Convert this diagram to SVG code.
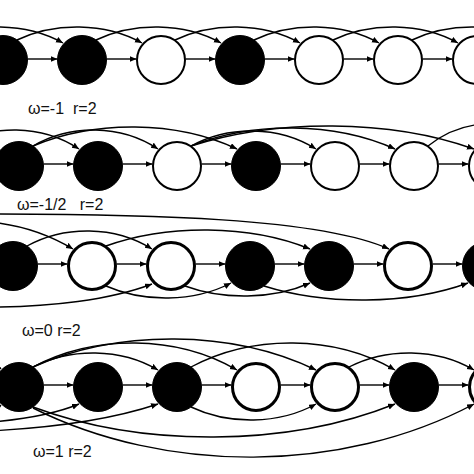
<svg xmlns="http://www.w3.org/2000/svg" width="474" height="474" viewBox="0 0 474 474">
<defs>
<marker id="ah" markerUnits="userSpaceOnUse" markerWidth="8" markerHeight="7" refX="7" refY="3" orient="auto">
<path d="M0,0 L7,3 L0,6 z" fill="#000"/>
</marker>
<style>
.b{fill:#000;stroke:#000;stroke-width:1}
.w{fill:#fff;stroke:#000;stroke-width:2}
.wt{fill:#fff;stroke:#000;stroke-width:3}
.e{fill:none;stroke:#000;stroke-width:1.4;marker-end:url(#ah)}
.lbl{font-family:"Liberation Sans",Arial,sans-serif;font-size:16px;fill:#111}
</style>
</defs>
<rect width="474" height="474" fill="#fff"/>

<g id="connectors">
<!-- row 1 -->
<path class="e" d="M27.5,59 H57.5"/>
<path class="e" d="M106.5,59 H136.5"/>
<path class="e" d="M185.5,59 H215.5"/>
<path class="e" d="M264.5,59 H294.5"/>
<path class="e" d="M343.5,59 H373.5"/>
<path class="e" d="M422.5,59 H452.5"/>
<path class="e" d="M-62,40 C-24.5,22.2 25.5,22.2 63,43"/>
<path class="e" d="M17,40 C54.5,22.2 104.5,22.2 142,43"/>
<path class="e" d="M96,40 C133.5,22.2 183.5,22.2 221,43"/>
<path class="e" d="M175,40 C212.5,22.2 262.5,22.2 300,43"/>
<path class="e" d="M254,40 C291.5,22.2 341.5,22.2 379,43"/>
<path class="e" d="M333,40 C370.5,22.2 420.5,22.2 458,43"/>
<path class="e" d="M412,40 C449.5,22.2 499.5,22.2 537,43"/>
<!-- row 2 -->
<path class="e" d="M43.5,164 H73.5"/>
<path class="e" d="M122.5,164 H152.5"/>
<path class="e" d="M201.5,164 H231.5"/>
<path class="e" d="M280.5,164 H310.5"/>
<path class="e" d="M359.5,164 H389.5"/>
<path class="e" d="M438.5,164 H468.5"/>
<path class="e" d="M-46,146 C-8.5,124.2 41.5,124.2 79,149"/>
<path class="e" d="M33,146 C70.5,124.2 120.5,124.2 158,149"/>
<path class="e" d="M33,146 C94.2,120.2 175.8,120.2 237,149"/>
<path class="e" d="M191,146 C228.5,125.5 278.5,125.5 316,149"/>
<path class="e" d="M191,146 C252.2,121.5 333.8,121.5 395,149"/>
<path class="e" d="M191,146 C275.9,118.8 389.1,118.8 474,149"/>
<path class="e" d="M428,146 C465.5,116.2 515.5,116.2 553,149"/>
<!-- row 3 -->
<path class="e" d="M37.5,264 H67.5"/>
<path class="e" d="M116.5,264 H146.5"/>
<path class="e" d="M195.5,264 H225.5"/>
<path class="e" d="M274.5,264 H304.5"/>
<path class="e" d="M353.5,264 H383.5"/>
<path class="e" d="M432.5,264 H462.5"/>
<path class="e" d="M-131,246 C-69.8,212.2 11.8,212.2 73,249"/>
<path class="e" d="M27,246 C64.5,225.5 114.5,225.5 152,249"/>
<path class="e" d="M106,246 C167.2,224.2 248.8,224.2 310,249"/>
<path class="e" d="M-20,214 C150,214 320,218 389,249"/>
<path class="e" d="M-10,307 C50,307 110,300 152,284"/>
<path class="e" d="M106,286 C143.5,302.5 193.5,302.5 231,283"/>
<path class="e" d="M185,286 C222.5,299.8 272.5,299.8 310,283"/>
<path class="e" d="M264,286 C325.2,305.2 406.8,305.2 468,283"/>
<!-- row 4 -->
<path class="e" d="M43.5,385 H73.5"/>
<path class="e" d="M122.5,385 H152.5"/>
<path class="e" d="M201.5,385 H231.5"/>
<path class="e" d="M280.5,385 H310.5"/>
<path class="e" d="M359.5,385 H389.5"/>
<path class="e" d="M438.5,385 H468.5"/>
<path class="e" d="M-30,352 C-15,352 -8,360 1,369"/>
<path class="e" d="M33,367 C70.5,347.8 120.5,347.8 158,370"/>
<path class="e" d="M33,367 C94.2,334.5 175.8,334.5 237,370"/>
<path class="e" d="M33,367 C117.9,329.2 231.1,329.2 316,370"/>
<path class="e" d="M191,367 C252.2,334.5 333.8,334.5 395,370"/>
<path class="e" d="M349,367 C386.5,347.8 436.5,347.8 474,370"/>
<path class="e" d="M-30,420 C-15,419 -6,413 1,405"/>
<path class="e" d="M-40,424 C10,422 50,416 79,404"/>
<path class="e" d="M-40,432 C40,430 110,420 158,404"/>
<path class="e" d="M191,407 C228.5,424.8 278.5,424.8 316,404"/>
<path class="e" d="M33,407 C141.6,447.5 286.4,447.5 395,404"/>
<path class="e" d="M33,408 C165.3,474.2 341.7,474.2 474,404"/>
</g>

<g id="row1">
<circle id="r1n0" class="b" cx="3" cy="60" r="24.5"/>
<circle id="r1n1" class="b" cx="82" cy="60" r="24.5"/>
<circle id="r1n2" class="w" cx="161" cy="60" r="24"/>
<circle id="r1n3" class="b" cx="240" cy="60" r="24.5"/>
<circle id="r1n4" class="w" cx="319" cy="60" r="24"/>
<circle id="r1n5" class="w" cx="398" cy="60" r="24"/>
<circle id="r1n6" class="w" cx="477" cy="60" r="24"/>
<text class="lbl" x="28" y="114" xml:space="preserve">ω=-1  r=2</text>
</g>

<g id="row2">
<circle id="r2n0" class="b" cx="19" cy="166" r="24.5"/>
<circle id="r2n1" class="b" cx="98" cy="166" r="24.5"/>
<circle id="r2n2" class="w" cx="177" cy="166" r="24"/>
<circle id="r2n3" class="b" cx="256" cy="166" r="24.5"/>
<circle id="r2n4" class="w" cx="335" cy="166" r="24"/>
<circle id="r2n5" class="w" cx="414" cy="166" r="24"/>
<circle id="r2n6" class="w" cx="493" cy="166" r="24"/>
<text class="lbl" x="17" y="210" xml:space="preserve">ω=-1/2   r=2</text>
</g>

<g id="row3">
<circle id="r3n0" class="b" cx="13" cy="266" r="24.5"/>
<circle id="r3n1" class="wt" cx="92" cy="266" r="23.5"/>
<circle id="r3n2" class="wt" cx="171" cy="266" r="23.5"/>
<circle id="r3n3" class="b" cx="250" cy="266" r="24.5"/>
<circle id="r3n4" class="b" cx="329" cy="266" r="24.5"/>
<circle id="r3n5" class="wt" cx="408" cy="266" r="23.5"/>
<circle id="r3n6" class="b" cx="487" cy="266" r="24.5"/>
<text class="lbl" x="22" y="336" xml:space="preserve">ω=0 r=2</text>
</g>

<g id="row4">
<circle id="r4n0" class="b" cx="19" cy="387" r="24.5"/>
<circle id="r4n1" class="b" cx="98" cy="387" r="24.5"/>
<circle id="r4n2" class="b" cx="177" cy="387" r="24.5"/>
<circle id="r4n3" class="wt" cx="256" cy="387" r="23.5"/>
<circle id="r4n4" class="wt" cx="335" cy="387" r="23.5"/>
<circle id="r4n5" class="b" cx="414" cy="387" r="24.5"/>
<circle id="r4n6" class="wt" cx="493" cy="387" r="23.5"/>
<text class="lbl" x="33" y="457" xml:space="preserve">ω=1 r=2</text>
</g>
</svg>
